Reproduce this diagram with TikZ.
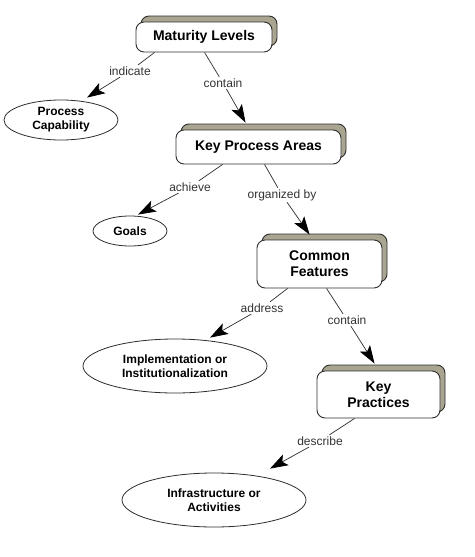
\documentclass[tikz,border=0pt]{standalone}
\usepackage{fontspec}
\setmainfont{Liberation Sans}
\usetikzlibrary{calc,arrows.meta,shapes.geometric,shadows}
\definecolor{shadowkhaki}{HTML}{A9A591}
\definecolor{edgegray}{HTML}{2E2E2E}
\definecolor{labelgray}{HTML}{333333}
\tikzset{
  concept/.style={draw=edgegray, line width=0.9pt, fill=white, rounded corners=8pt,
    font=\bfseries\fontsize{14}{16}\selectfont, align=center, inner sep=0pt,
    copy shadow={shadow xshift=5pt, shadow yshift=6pt, fill=shadowkhaki, draw=edgegray, line width=0.9pt}},
  oval/.style={ellipse, draw=edgegray, line width=0.8pt, fill=white, inner sep=0pt,
    font=\bfseries\fontsize{12}{14}\selectfont, align=center},
  linklabel/.style={fill=white, inner sep=1.5pt, text=labelgray, font=\fontsize{12}{14}\selectfont},
  link/.style={draw=edgegray, line width=0.7pt},
  arrowlink/.style={link, -{Stealth[length=18pt,width=12pt,inset=4pt,color=black,fill=black]}}
}
\begin{document}
\begin{tikzpicture}[x=1pt,y=-1pt]
\useasboundingbox[fill=white] (0,0) rectangle (474,557);
% concept boxes
\node[concept, minimum width=136pt, minimum height=30pt] (ml) at (204,37) {Maturity Levels};
\node[concept, minimum width=165pt, minimum height=34pt] (kpa) at (258.5,147) {Key Process Areas};
\node[concept, minimum width=125pt, minimum height=48pt] (cf) at (319.5,264) {Common\\Features};
\node[concept, minimum width=123pt, minimum height=47pt] (kp) at (378.5,394.5) {Key\\Practices};
% ovals
\node[oval, minimum width=114pt, minimum height=40pt] (pc) at (61,120) {Process\\Capability};
\node[oval, minimum width=74pt, minimum height=30pt] (goals) at (130,231) {Goals};
\node[oval, minimum width=184pt, minimum height=54pt] (impl) at (175,366) {Implementation or\\Institutionalization};
\node[oval, minimum width=184pt, minimum height=54pt] (infra) at (214,500) {Infrastructure or\\Activities};
% labels
\node[linklabel] (lindicate) at (130,71) {indicate};
\node[linklabel] (lcontain) at (223,83) {contain};
\node[linklabel] (lachieve) at (190,187) {achieve};
\node[linklabel] (lorg) at (282,195) {organized by};
\node[linklabel] (laddress) at (262,308) {address};
\node[linklabel] (lcontainb) at (347,320) {contain};
\node[linklabel] (ldescribe) at (320,441) {describe};
% connectors
\draw[link] ($(ml.south west)+(19,0)$) -- (lindicate);
\draw[arrowlink] (lindicate) -- ($(pc.north)+(26,-2)$);
\draw[link] ($(ml.south west)+(69,0)$) -- (lcontain);
\draw[arrowlink] (lcontain) -- ($(kpa.north west)+(70,-7)$);
\draw[link] ($(kpa.south west)+(47,0)$) -- (lachieve);
\draw[arrowlink] (lachieve) -- ($(goals.north)+(8,-1)$);
\draw[link] ($(kpa.south west)+(89,0)$) -- (lorg);
\draw[arrowlink] (lorg) -- ($(cf.north west)+(53,-5)$);
\draw[link] ($(cf.south west)+(31,0)$) -- (laddress);
\draw[arrowlink] (laddress) -- ($(impl.north)+(35,-1)$);
\draw[link] ($(cf.south west)+(70,0)$) -- (lcontainb);
\draw[arrowlink] (lcontainb) -- ($(kp.north west)+(58,-7)$);
\draw[link] ($(kp.south west)+(38,0)$) -- (ldescribe);
\draw[arrowlink] (ldescribe) -- ($(infra.north)+(56,-4)$);
\end{tikzpicture}
\end{document}
